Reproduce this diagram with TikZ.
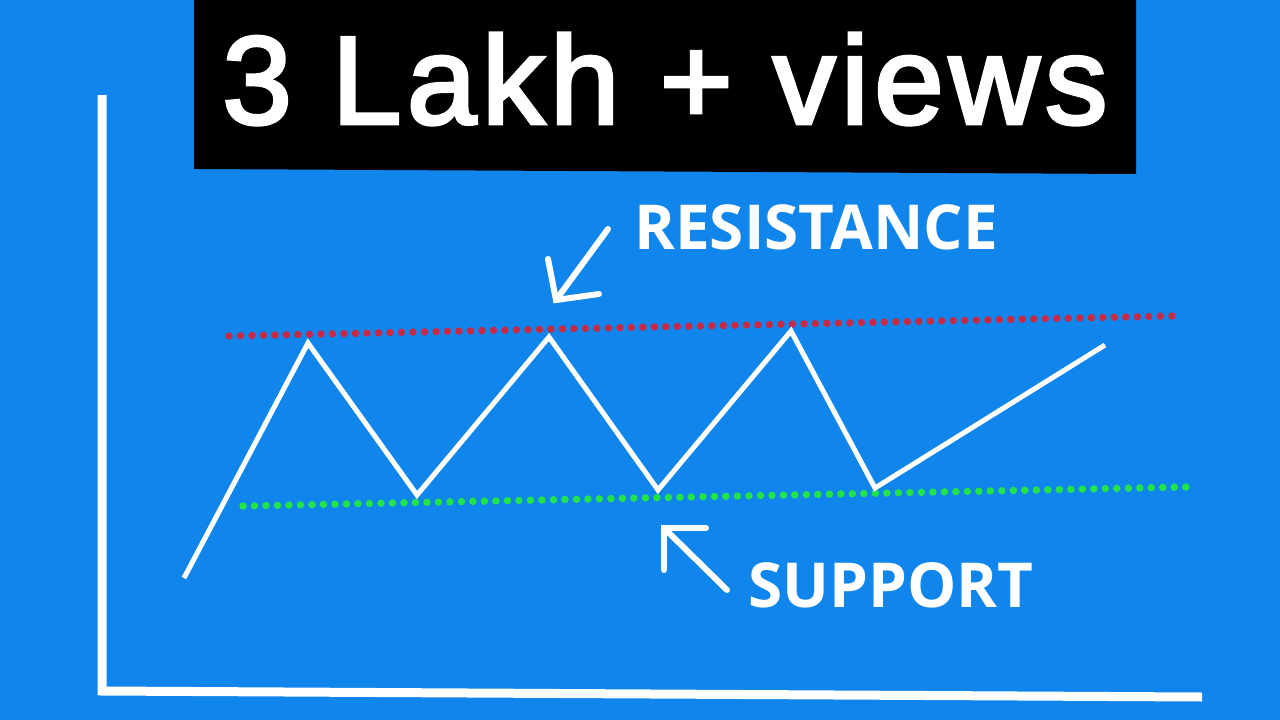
\documentclass[tikz,border=0pt]{standalone}
\usepackage{fontspec}
\setmainfont{Liberation Sans}
\newfontfamily\bannerfont[FakeBold=2.8,LetterSpace=4.4]{Liberation Sans}
\newfontfamily\labelfont{Open Sans}
\usepackage{xcolor}
\definecolor{chartblue}{HTML}{1085EC}
\definecolor{resred}{HTML}{C62A45}
\definecolor{supgreen}{HTML}{22E34A}
\tikzset{
  axisline/.style={draw=white,line width=9pt,line join=miter},
  trace/.style={draw=white,line width=5pt,line join=miter},
  pointer/.style={draw=white,line width=6pt,line cap=round,line join=miter},
  dotline/.style={line width=7.5pt,line cap=round,dash pattern=on 0pt off 11.5pt},
  biglabel/.style={text=white,inner sep=0pt,font=\bannerfont\fontsize{125}{130}\selectfont},
  levellabel/.style={text=white,inner sep=0pt,font=\labelfont\bfseries\fontsize{62}{66}\selectfont}
}
\begin{document}
\begin{tikzpicture}[x=1pt,y=-1pt]
  \fill[chartblue] (0,0) rectangle (1280,720);
  \useasboundingbox (0,0) rectangle (1280,720);
  % banner
  \fill[black] (194,0) -- (1136,0) -- (1136,174) -- (194,169) -- cycle;
  \node[biglabel] (banner) at (665,79) {3 Lakh + views};
  % axes
  \coordinate (ytop) at (102,95);
  \coordinate (origin) at (102,691);
  \coordinate (xend) at (1202,697);
  \draw[axisline] (ytop) -- (origin) -- (xend);
  % level lines
  \coordinate (resL) at (229,336);
  \coordinate (resR) at (1172,316);
  \coordinate (supL) at (243,506);
  \coordinate (supR) at (1186,487);
  \draw[resred,dotline] (resL) -- (resR);
  \draw[supgreen,dotline] (supL) -- (supR);
  % price
  \coordinate (p0) at (184,578);
  \coordinate (p1) at (308,343);
  \coordinate (p2) at (417,495);
  \coordinate (p3) at (549,337);
  \coordinate (p4) at (658,490);
  \coordinate (p5) at (791,331);
  \coordinate (p6) at (875,488);
  \coordinate (p7) at (1105,345);
  \draw[trace] (p0) -- (p1) -- (p2) -- (p3) -- (p4) -- (p5) -- (p6) -- (p7);
  % labels
  \node[levellabel] (resistance) at (816,227) {RESISTANCE};
  \node[levellabel] (support) at (891,585) {SUPPORT};
  % pointers
  \coordinate (restail) at (608,229);
  \coordinate (restip) at (556,300);
  \coordinate (resbarbA) at (548,259);
  \coordinate (resbarbB) at (599,294);
  \draw[pointer] (restail) -- (restip);
  \draw[pointer] (resbarbA) -- (restip) -- (resbarbB);
  \coordinate (suptail) at (727,590);
  \coordinate (suptip) at (664,528);
  \coordinate (supbarbA) at (706,528);
  \coordinate (supbarbB) at (664,570);
  \draw[pointer] (suptail) -- (suptip);
  \draw[pointer] (supbarbA) -- (suptip) -- (supbarbB);
\end{tikzpicture}
\end{document}
